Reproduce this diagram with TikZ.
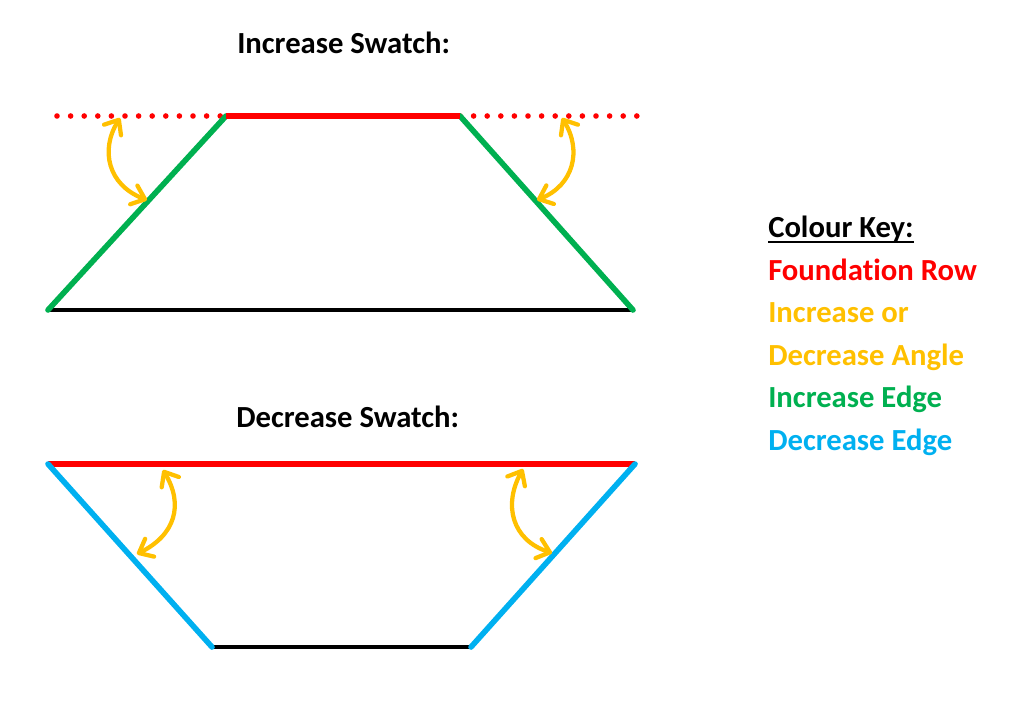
\documentclass[tikz,border=0pt]{standalone}
\usepackage{fontspec}
\setmainfont[Ligatures=NoCommon]{Carlito}
\usetikzlibrary{arrows.meta}
\definecolor{kred}{HTML}{FF0000}
\definecolor{kyel}{HTML}{FFC000}
\definecolor{kgrn}{HTML}{00B050}
\definecolor{kblu}{HTML}{00B0F0}
\begin{document}
\begin{tikzpicture}[x=0.75pt,y=-0.75pt,
  edge/.style={line width=4.2pt,line cap=round},
  base/.style={line width=3.2pt,black},
  dotline/.style={kred,line width=4.2pt,line cap=round,dash pattern=on 0pt off 10.2pt},
  angarrow/.style={kyel,line width=3.2pt,line cap=round,{Straight Barb[round,length=9pt,width=15pt]}-{Straight Barb[round,length=9pt,width=15pt]}},
  title/.style={font=\fontsize{23}{27}\selectfont\bfseries,anchor=base west,inner sep=0pt},
  keytext/.style={font=\fontsize{23}{27}\selectfont\bfseries,anchor=base west,inner sep=0pt}]
\useasboundingbox (0,0) rectangle (1024,707);
% top swatch
\coordinate (a1) at (48,310);
\coordinate (a2) at (226,116);
\coordinate (a3) at (460,116);
\coordinate (a4) at (633,310);
\coordinate (d1) at (57,116);
\coordinate (d2) at (638,116);
\draw[dotline] (d1) -- (a2);
\draw[dotline] (a3) -- (d2);
\draw[base] (a1) -- (a4);
\draw[edge,kgrn] (a1) -- (a2);
\draw[edge,kgrn] (a3) -- (a4);
\draw[edge,kred,line cap=butt] (a2) -- (a3);
\coordinate (t1) at (120,118);
\coordinate (t2) at (147,200);
\coordinate (t3) at (562,118);
\coordinate (t4) at (537,200);
\draw[angarrow] (t1) .. controls (100,150) and (108,185) .. (t2);
\draw[angarrow] (t3) .. controls (582,150) and (574,185) .. (t4);
% bottom swatch
\coordinate (b1) at (48,464);
\coordinate (b2) at (635,464);
\coordinate (b3) at (471,647);
\coordinate (b4) at (212,647);
\draw[base] (b4) -- (b3);
\draw[edge,kred,line cap=butt] (b1) -- (b2);
\draw[edge,kblu] (b1) -- (b4);
\draw[edge,kblu] (b2) -- (b3);
\coordinate (u1) at (163,470);
\coordinate (u2) at (137,554);
\coordinate (u3) at (523,469);
\coordinate (u4) at (552,553);
\draw[angarrow] (u1) .. controls (184,505) and (175,535) .. (u2);
\draw[angarrow] (u3) .. controls (503,505) and (512,540) .. (u4);
% titles
\node[title] (ti1) at (237,53) {Increase Swatch:};
\node[title] (ti2) at (236,427) {Decrease Swatch:};
% key
\node[keytext] (k0) at (768,237) {Colour Key:};
\draw[line width=1.7pt] (k0.base west) ++(0,5) -- ++(146,0);
\node[keytext,text=kred] (k1) at (768,280) {Foundation Row};
\node[keytext,text=kyel] (k2) at (768,322) {Increase or};
\node[keytext,text=kyel] (k3) at (768,365) {Decrease Angle};
\node[keytext,text=kgrn] (k4) at (768,407) {Increase Edge};
\node[keytext,text=kblu] (k5) at (768,450) {Decrease Edge};
\end{tikzpicture}
\end{document}
